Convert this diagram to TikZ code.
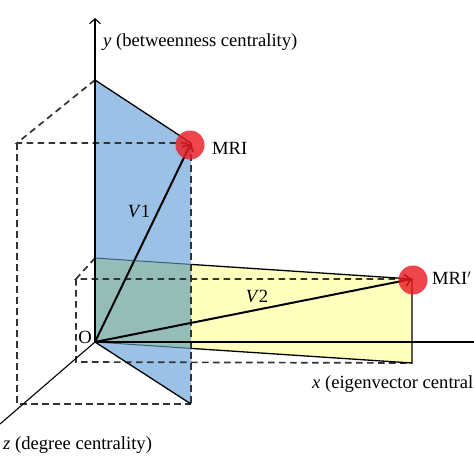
\documentclass[tikz,border=0pt]{standalone}
\usepackage{fontspec}
\setmainfont{Liberation Serif}
\usetikzlibrary{arrows.meta}
\definecolor{planeblue}{RGB}{155,194,230}
\definecolor{planeyellow}{RGB}{255,255,190}
\definecolor{overlapc}{RGB}{148,189,184}
\definecolor{dashgray}{RGB}{50,50,55}
\definecolor{inedge}{RGB}{60,95,125}
\definecolor{dotred}{RGB}{236,28,36}
\tikzset{
  axisline/.style={line width=1.1pt, black},
  vecline/.style={line width=2pt, black, -{Straight Barb[length=6pt,width=12pt,line width=1.6pt]}},
  projdash/.style={line width=1.7pt, dashgray, dash pattern=on 6.5pt off 4.5pt},
  edgeline/.style={line width=1.3pt, black},
  inline/.style={line width=1pt, inedge},
  dotc/.style={circle, fill=dotred, fill opacity=0.82, minimum size=29pt, inner sep=0pt},
  lbl/.style={font=\fontsize{18.6}{21}\selectfont, inner sep=0pt}
}
\begin{document}
\begin{tikzpicture}[x=1pt,y=-1pt]
\useasboundingbox (0,0) rectangle (474,474);
\clip (0,0) rectangle (474,474);
% coordinates
\coordinate (O) at (95,342);
\coordinate (Ytip) at (95,18);
\coordinate (Btop) at (95,80);
\coordinate (MRI) at (191,143);
\coordinate (Bbot) at (191,404);
\coordinate (Dtl) at (17,143);
\coordinate (Dbl) at (17,404);
\coordinate (Ytop) at (95,258);
\coordinate (MRIp) at (412,279);
\coordinate (Ybot) at (412,363);
\coordinate (Etl) at (76,279);
\coordinate (Ebl) at (76,362);
\coordinate (Zend) at (0,424);
\coordinate (Xend) at (474,342);
\coordinate (Ovt) at (191,264.4);
\coordinate (Ovb) at (191,348.4);
% planes
\fill[planeyellow] (Ytop) -- (MRIp) -- (Ybot) -- (O) -- cycle;
\fill[planeblue] (O) -- (Btop) -- (MRI) -- (Bbot) -- cycle;
\fill[overlapc] (Ytop) -- (Ovt) -- (Ovb) -- (O) -- cycle;
% dashed projection lines
\draw[projdash] (Btop) -- (Dtl) -- (MRI);
\draw[projdash] (Dtl) -- (Dbl) -- (Bbot);
\draw[projdash] (MRI) -- (Bbot);
\draw[projdash] (Ytop) -- (Etl) -- (MRIp);
\draw[projdash] (Etl) -- (Ebl) -- (Ybot);
% plane edges
\draw[inline] (Ytop) -- (Ovt);
\draw[inline] (O) -- (Ovb);
\draw[edgeline] (Ovt) -- (MRIp) -- (Ybot) -- (Ovb);
\draw[edgeline] (Btop) -- (MRI);
\draw[edgeline] (O) -- (Bbot);
% axes
\draw[axisline, -{Straight Barb[length=5pt,width=11pt,line width=1.1pt]}] (O) -- (Ytip);
\draw[axisline] (O) -- (Xend);
\draw[axisline] (O) -- (Zend);
% vectors
\draw[vecline] (O) -- (MRI);
\draw[vecline] (O) -- (MRIp);
% points
\node[dotc] (dotA) at (190,145) {};
\node[dotc] (dotB) at (413,280) {};
% labels
\node[lbl, anchor=west] (ylab) at (103,42) {\textit{y} (betweenness centrality)};
\node[lbl, anchor=west] (xlab) at (312,384) {\textit{x} (eigenvector centrality)};
\node[lbl, anchor=west] (zlab) at (3,445) {\textit{z} (degree centrality)};
\node[lbl, anchor=west] (mrilab) at (212,148) {MRI};
\node[lbl, anchor=west] (mripl) at (432,278) {MRI$'$};
\node[lbl] (v1lab) at (139,211) {\textit{V}1};
\node[lbl] (v2lab) at (257,296) {\textit{V}2};
\node[lbl] (olab) at (85,337) {O};
\end{tikzpicture}
\end{document}
